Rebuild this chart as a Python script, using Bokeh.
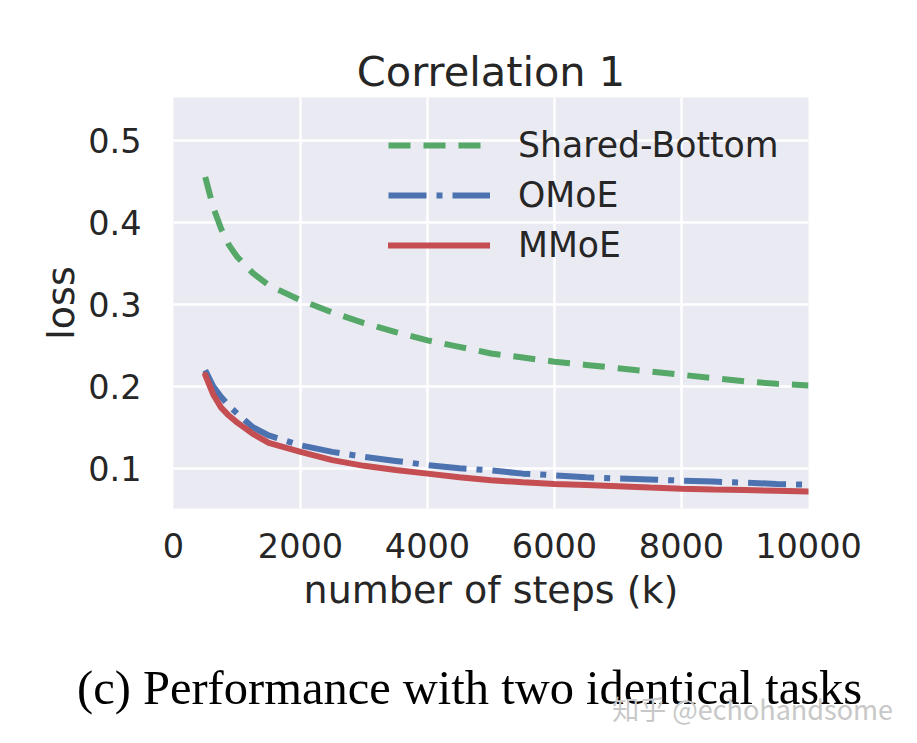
"""Correlation 1: loss curves of Shared-Bottom, OMoE and MMoE on two identical tasks."""

from bokeh.embed import file_html
from bokeh.layouts import column
from bokeh.models import Div, FixedTicker, Legend, Range1d
from bokeh.plotting import figure
from bokeh.resources import INLINE

steps = [500, 625, 750, 875, 1000, 1250, 1500, 2000, 2500, 3000, 3500, 4000,
         4500, 5000, 5500, 6000, 6500, 7000, 7500, 8000, 8500, 9000, 9500, 10000]
shared_bottom = [0.455, 0.418, 0.392, 0.372, 0.358, 0.338, 0.323, 0.305, 0.290,
                 0.277, 0.266, 0.256, 0.248, 0.240, 0.235, 0.230, 0.226, 0.222,
                 0.218, 0.214, 0.210, 0.206, 0.203, 0.201]
omoe = [0.2195, 0.200, 0.187, 0.176, 0.167, 0.150, 0.140, 0.128, 0.120, 0.114,
        0.109, 0.104, 0.100, 0.0975, 0.0935, 0.0915, 0.089, 0.0875, 0.0863,
        0.085, 0.0838, 0.0825, 0.081, 0.080]
mmoe = [0.214, 0.190, 0.174, 0.164, 0.156, 0.142, 0.131, 0.120, 0.110, 0.103,
        0.098, 0.0935, 0.089, 0.0855, 0.083, 0.081, 0.0795, 0.078, 0.0765,
        0.0752, 0.0743, 0.0735, 0.0727, 0.0718]
x_ticks = [0, 2000, 4000, 6000, 8000, 10000]
y_ticks = [0.1, 0.2, 0.3, 0.4, 0.5]
caption_text = "(c) Performance with two identical tasks"
watermark_text = "知乎 @echohandsome"

TEXT = "#262626"
FONT = "DejaVu Sans"

p = figure(
    width=900, height=620,
    x_range=Range1d(0, 10000), y_range=Range1d(0.051, 0.552),
    output_backend="svg", toolbar_location=None, tools="",
    min_border_left=173, min_border_right=92,
    min_border_top=97, min_border_bottom=112,
    background_fill_color="#EAEAF2", border_fill_color="white",
    outline_line_color=None,
)

p.title.text = "Correlation 1"
p.title.align = "center"
p.title.text_font = FONT
p.title.text_font_size = "41.5px"
p.title.text_font_style = "normal"
p.title.text_color = TEXT
p.title.standoff = 4

for ax in (p.xaxis, p.yaxis):
    ax.axis_line_color = None
    ax.major_tick_line_color = None
    ax.minor_tick_line_color = None
    ax.major_label_text_font = FONT
    ax.major_label_text_font_size = "33.5px"
    ax.major_label_text_color = TEXT
    ax.axis_label_text_font = FONT
    ax.axis_label_text_font_size = "38px"
    ax.axis_label_text_font_style = "normal"
    ax.axis_label_text_color = TEXT

p.xaxis.ticker = FixedTicker(ticks=x_ticks)
p.yaxis.ticker = FixedTicker(ticks=y_ticks)
p.xaxis.major_label_standoff = 18
p.yaxis.major_label_standoff = 26
p.xaxis.axis_label = "number of steps (k)"
p.yaxis.axis_label = "loss"
p.xaxis.axis_label_standoff = 7
p.yaxis.axis_label_standoff = 2

p.grid.grid_line_color = "white"
p.grid.grid_line_width = 2.5

sb = p.line(steps, shared_bottom, color="#55A868", line_width=6,
            line_dash="22 13")
om = p.line(steps, omoe, color="#4C72B0", line_width=6,
            line_dash="38 10 6 10")
mm = p.line(steps, mmoe, color="#C44E52", line_width=6, line_cap="round")

legend = Legend(
    items=[("Shared-Bottom", [sb]), ("OMoE", [om]), ("MMoE", [mm])],
    location=(215, 243),
    background_fill_alpha=0, border_line_color=None,
    label_text_font=FONT, label_text_font_size="34.7px", label_text_color=TEXT,
    glyph_width=102, glyph_height=40, label_height=40, spacing=10,
    label_standoff=28, padding=0, margin=0,
)
p.add_layout(legend)

# caption strip with the site watermark overlapping its right end
caption_html = (
    '<div style="position:relative;width:900px;height:115px;">'
    '<span style="position:absolute;left:77px;top:44px;line-height:1;'
    "white-space:nowrap;font-family:'Liberation Serif';font-size:48.5px;"
    f'color:#000;">{caption_text}</span>'
    '<span style="position:absolute;right:7px;top:75px;line-height:1;'
    "white-space:nowrap;font-family:'Noto Sans CJK SC';font-size:27px;"
    f'color:#C8C8C8;">{watermark_text}</span>'
    "</div>"
)
cap = Div(text=caption_html, width=900, height=115, margin=0)

layout = column(p, cap, spacing=0)
open("out.html", "w").write(file_html(layout, INLINE))
